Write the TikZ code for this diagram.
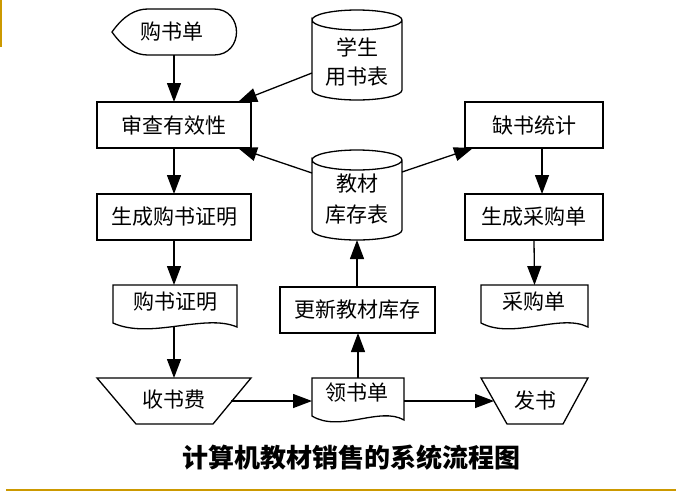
\documentclass[tikz,border=0pt]{standalone}
\usepackage{fontspec}
\newfontfamily\cjk{Noto Sans CJK SC}
\usetikzlibrary{calc,arrows.meta}
\definecolor{gold}{RGB}{204,153,0}
\tikzset{
  shp/.style={draw=black, line width=1.3pt, line join=miter},
  box/.style={inner sep=0pt, outer sep=0pt},
  rbox/.style={draw=black, line width=1.3pt, inner sep=0pt, outer sep=0pt, font=\cjk\fontsize{21}{29}\selectfont},
  txt/.style={inner sep=0pt, font=\cjk\fontsize{21}{29}\selectfont, align=center},
  arr/.style={line width=1.3pt, -{Triangle[length=19pt,width=14pt]}},
  cylpic/.pic={
    \draw[shp] (-45,0) .. controls (-45,-5.52) and (-24.85,-10) .. (0,-10)
      .. controls (24.85,-10) and (45,-5.52) .. (45,0)
      .. controls (45,5.52) and (24.85,10) .. (0,10)
      .. controls (-24.85,10) and (-45,5.52) .. (-45,0)
      -- (-45,70) .. controls (-45,75.52) and (-24.85,80) .. (0,80)
      .. controls (24.85,80) and (45,75.52) .. (45,70) -- (45,0);
  }
}
\newcommand{\docpath}[4]{%
  \draw[shp] (#1,#2) -- (#3,#2) -- (#3,{#4+4})
    .. controls ({#3-0.26*(#3-#1)},{#4-10}) and ({#1+0.3*(#3-#1)},{#4+17}) .. (#1,#4) -- cycle;}
\begin{document}
\begin{tikzpicture}[x=1pt,y=-1pt]
\useasboundingbox (0,0) rectangle (676,491);
% decorations
\fill[gold] (0,0) rectangle (1.5,47);
\fill[gold] (6,488.5) rectangle (676,491);

% display shape: 购书单
\draw[shp] (112,32) .. controls (124,15) and (136,9) .. (148,9) -- (214,9)
  .. controls (244,9) and (244,55) .. (214,55) -- (148,55)
  .. controls (136,55) and (124,49) .. (112,32) -- cycle;
\node[box, minimum width=124, minimum height=46] (buy) at (174,32) {};
\node[txt] (buyT) at (172,32) {购书单};

% rectangles
\node[rbox, minimum width=154, minimum height=46] (check) at (174,125) {审查有效性};
\node[rbox, minimum width=154, minimum height=46] (gen) at (174,217) {生成购书证明};
\node[rbox, minimum width=155, minimum height=46] (upd) at (357.5,310) {更新教材库存};
\node[rbox, minimum width=138, minimum height=46] (short) at (534,125) {缺书统计};
\node[rbox, minimum width=138, minimum height=46] (genpo) at (534,217) {生成采购单};

% cylinders
\pic at (357,20) {cylpic};
\node[box, minimum width=90, minimum height=90] (stu) at (357,55) {};
\node[txt] (stuT) at (357,62) {学生\\用书表};
\pic at (357,160) {cylpic};
\node[box, minimum width=90, minimum height=90] (stk) at (357,195) {};
\node[txt, font=\cjk\fontsize{21}{31}\selectfont] (stkT) at (357,199) {教材\\库存表};

% documents
\docpath{113}{285}{237}{323}
\node[box, minimum width=124, minimum height=41] (cert) at (174,305.5) {};
\node[txt] (certT) at (175,302) {购书证明};
\docpath{312}{378}{404}{416}
\node[box, minimum width=92, minimum height=46] (recv) at (358,401) {};
\node[txt] (recvT) at (357,393) {领书单};
\docpath{481}{285}{588}{323}
\node[box, minimum width=107, minimum height=41] (po) at (534.5,305.5) {};
\node[txt] (poT) at (534,302) {采购单};

% trapezoids
\draw[shp] (97,378) -- (251,378) -- (213,424) -- (136,424) -- cycle;
\node[box, minimum width=154, minimum height=46] (fee) at (174,401) {};
\node[txt] (feeT) at (174,400) {收书费};
\draw[shp] (481,378) -- (588,378) -- (563,424) -- (507,424) -- cycle;
\node[box, minimum width=107, minimum height=46] (dist) at (534.5,401) {};
\node[txt] (distT) at (535,400) {发书};

% title
\node[inner sep=0pt, font=\cjk\bfseries\fontsize{26}{30}\selectfont] (title) at (351,458) {计算机教材销售的系统流程图};

% connectors
\draw[arr] (buy.south) -- (check.north);
\draw[arr] (check.south) -- (gen.north);
\draw[arr] (gen.south) -- (cert.north);
\draw[arr] (cert.south) -- (fee.north);
\draw[arr] ($(fee.east)+(-20,0)$) -- (recv.west);
\draw[arr] (recv.east) -- ($(dist.west)+(13,0)$);
\draw[arr] (recv.north) -- (recv.north |- upd.south);
\draw[arr] (upd.north -| stk.south) -- (stk.south);
\draw[arr] ($(stu.west)+(0,18)$) -- ($(check.north east)+(-13,0)$);
\draw[arr] ($(stk.west)+(0,-22)$) -- ($(check.south east)+(-13,0)$);
\draw[arr] ($(stk.east)+(0,-23)$) -- ($(short.south west)+(8,0)$);
\draw[arr] ($(short.south)+(8,0)$) -- ($(genpo.north)+(8,0)$);
\draw[arr] (genpo.south) -- (po.north);
\end{tikzpicture}
\end{document}
